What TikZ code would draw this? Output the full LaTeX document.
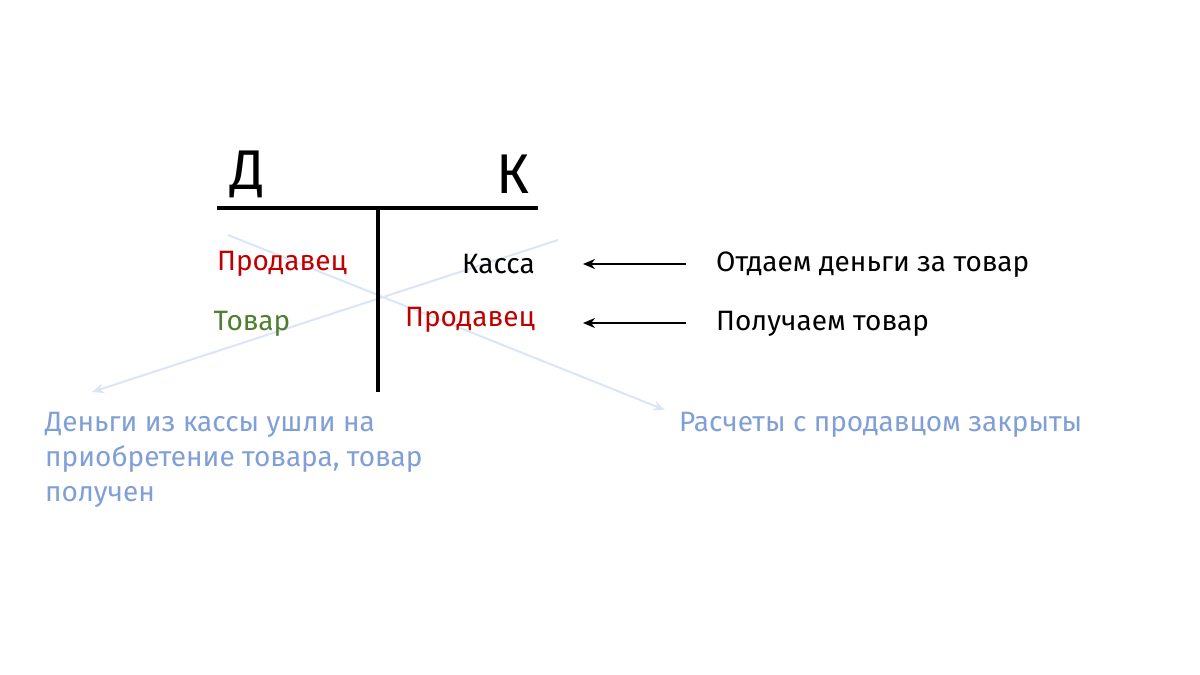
\documentclass[tikz,border=0pt]{standalone}
\usepackage{fontspec}
\setmainfont{Fira Sans}
\begin{document}
\begin{tikzpicture}[x=1pt,y=-1pt,
  lbl/.style={font=\fontsize{28}{34}\selectfont, inner sep=0pt},
  big/.style={font=\fontsize{56}{60}\selectfont, inner sep=0pt},
  note/.style={font=\fontsize{28}{35}\selectfont, text=noteblue, inner sep=0pt, align=left},
  tline/.style={line width=3.5pt},
  blk/.style={-{Stealth[length=12pt,width=10pt]}, line width=2.2pt},
  faint/.style={-{Stealth[length=12pt,width=10pt]}, line width=2pt, draw=faintblue}]
\usetikzlibrary{arrows.meta}
\definecolor{noteblue}{HTML}{7F9FD6}
\definecolor{faintblue}{HTML}{DCE5F5}
\definecolor{myred}{HTML}{C00000}
\definecolor{mygreen}{HTML}{4E7F2E}
\useasboundingbox (0,0) rectangle (1200,675);
\draw[faint] (228,235) coordinate (s1) -- (665,410) coordinate (e1);
\draw[faint] (558,240) coordinate (s2) -- (92,392) coordinate (e2);
\node[big] (d) at (248,174) {Д};
\node[big] (k) at (513,174) {К};
\coordinate (hl) at (217,208); \coordinate (hr) at (538,208);
\coordinate (vt) at (378,208); \coordinate (vb) at (378,392);
\draw[tline] (hl) -- (hr);
\draw[tline] (vt) -- (vb);
\node[lbl, text=myred] (p1) at (282,264) {Продавец};
\node[lbl, anchor=east] (ka) at (535,264) {Касса};
\node[lbl, text=mygreen] (tv) at (252,324) {Товар};
\node[lbl, text=myred] (p2) at (470,320) {Продавец};
\node[lbl, anchor=west] (t1) at (716,265) {Отдаем деньги за товар};
\node[lbl, anchor=west] (t2) at (716,324) {Получаем товар};
\coordinate (a1s) at (686,264); \coordinate (a1e) at (583,264);
\coordinate (a2s) at (686,323); \coordinate (a2e) at (583,323);
\draw[blk] (a1s) -- (a1e);
\draw[blk] (a2s) -- (a2e);
\node[note, anchor=north west] (n1) at (45,412) {Деньги из кассы ушли на\\приобретение товара, товар\\получен};
\node[note, anchor=west] (n2) at (679,425) {Расчеты с продавцом закрыты};
\end{tikzpicture}
\end{document}
